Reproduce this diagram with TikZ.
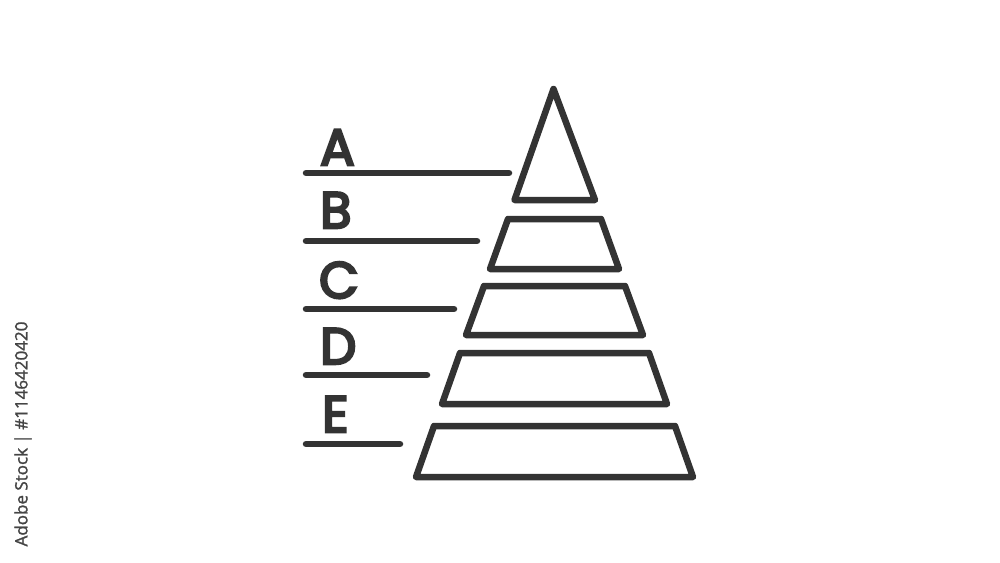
\documentclass[tikz,border=0pt]{standalone}
\usepackage{fontspec}
\setmainfont{Poppins}
\newfontfamily\wmfont[FakeBold=1.5]{Open Sans}
\newfontfamily\letterfont[FakeBold=5]{Poppins}
\definecolor{ink}{HTML}{333333}
\definecolor{wm}{HTML}{444444}
\tikzset{
  stroke/.style={draw=ink,line width=6.5pt,line join=round,line cap=round},
  letter/.style={anchor=base west,inner sep=0pt,text=ink,font=\letterfont\fontsize{51}{51}\selectfont},
}
\begin{document}
\begin{tikzpicture}[x=1pt,y=-1pt]
\useasboundingbox[fill=white] (0,0) rectangle (1000,562);
% pyramid layers
\draw[stroke] (553.5,89) -- (595,200) -- (514.5,200) -- cycle;
\draw[stroke] (508,219) -- (601,219) -- (619,269) -- (490,269) -- cycle;
\draw[stroke] (484,286) -- (625,286) -- (643,335) -- (466,335) -- cycle;
\draw[stroke] (460,353) -- (649,353) -- (667,404) -- (442,404) -- cycle;
\draw[stroke] (434,426) -- (675,426) -- (693,477) -- (416,477) -- cycle;
% labels
\node[letter] (A) at (320,165) {A};
\node[letter] (B) at (320,228) {B};
\node[letter] (C) at (319,298) {C};
\node[letter] (D) at (320,364) {D};
\node[letter] (E) at (322,432) {E};
% label lines
\coordinate (a1) at (306,173); \coordinate (a2) at (509,173);
\coordinate (b1) at (306,241); \coordinate (b2) at (477,241);
\coordinate (c1) at (306,309); \coordinate (c2) at (454,309);
\coordinate (d1) at (306,375); \coordinate (d2) at (427,375);
\coordinate (e1) at (306,444); \coordinate (e2) at (400,444);
\draw[stroke] (a1) -- (a2);
\draw[stroke] (b1) -- (b2);
\draw[stroke] (c1) -- (c2);
\draw[stroke] (d1) -- (d2);
\draw[stroke] (e1) -- (e2);
% side watermark text
\node[rotate=90,inner sep=0pt,text=wm,font=\wmfont\fontsize{17}{17}\selectfont] (wmk) at (23,434) {Adobe Stock | \#1146420420};
\end{tikzpicture}
\end{document}
